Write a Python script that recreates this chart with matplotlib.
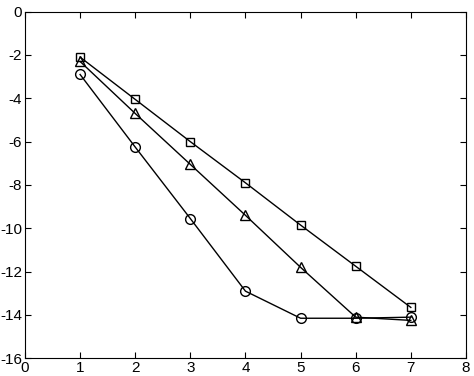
import matplotlib
matplotlib.use("Agg")
import matplotlib.pyplot as plt

plt.rcParams['font.family'] = ['Liberation Sans', 'DejaVu Sans']
plt.rcParams['axes.unicode_minus'] = False

x = [1, 2, 3, 4, 5, 6, 7]
squares = [-2.1, -4.05, -6.0, -7.9, -9.85, -11.75, -13.65]
triangles = [-2.3, -4.7, -7.05, -9.4, -11.8, -14.1, -14.25]
circles = [-2.9, -6.25, -9.55, -12.9, -14.15, -14.15, -14.1]

fig = plt.figure(figsize=(4.74, 3.76), dpi=100)
ax = fig.add_axes([0.0527, 0.047, 0.9303, 0.922])

style = dict(color='black', linewidth=1.0, markerfacecolor='none',
             markeredgecolor='black', markeredgewidth=1.0)
ax.plot(x, squares, marker='s', markersize=5.8, **style)
ax.plot(x, triangles, marker='^', markersize=7.5, **style)
ax.plot(x, circles, marker='o', markersize=7, **style)

ax.set_xlim(0, 8)
ax.set_ylim(-16, 0)
ax.set_xticks(range(0, 9))
ax.set_yticks(range(-16, 1, 2))
ax.tick_params(direction='in', top=True, right=True, labelsize=11,
               length=4, width=0.8, pad=2)
for s in ax.spines.values():
    s.set_linewidth(0.8)

fig.savefig('out.png', dpi=100)
